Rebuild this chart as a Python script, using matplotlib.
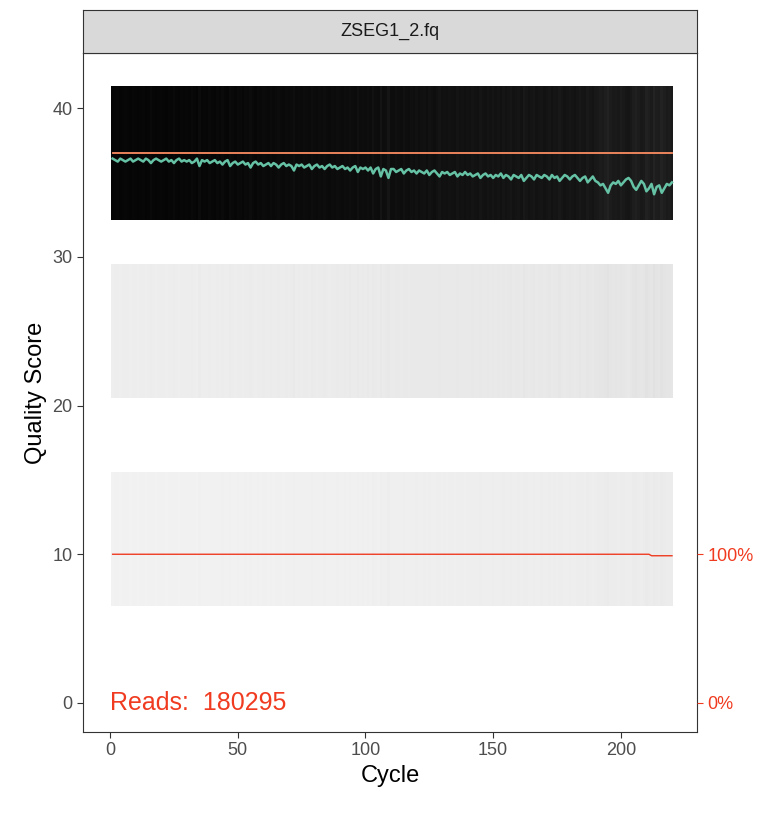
import numpy as np
import matplotlib
matplotlib.use("Agg")
import matplotlib.pyplot as plt
from matplotlib.colors import LinearSegmentedColormap
plt.rcParams['font.family'] = ['Liberation Sans', 'DejaVu Sans']

title = "ZSEG1_2.fq"
reads = 180295
cycles = np.arange(1, 221)
mean_q = [36.6,36.5,36.4,36.6,36.5,36.4,36.5,36.6,36.4,36.5,
36.6,36.5,36.4,36.6,36.5,36.3,36.5,36.6,36.5,36.4,
36.5,36.6,36.4,36.5,36.3,36.5,36.6,36.4,36.5,36.4,
36.5,36.3,36.4,36.6,36.1,36.5,36.4,36.5,36.3,36.4,
36.5,36.3,36.4,36.2,36.4,36.5,36.1,36.3,36.4,36.2,
36.3,36.4,36.2,36.3,36.0,36.3,36.4,36.2,36.3,36.1,
36.2,36.3,36.1,36.3,36.2,36.0,36.2,36.3,36.1,36.2,
36.1,35.8,36.2,36.1,36.2,36.0,36.1,36.2,35.9,36.1,
36.2,36.0,36.1,35.9,36.1,36.2,36.0,36.1,35.9,36.0,
36.1,35.9,36.0,35.8,36.0,36.1,35.7,36.0,35.9,36.0,
35.8,36.0,35.6,35.9,36.0,35.4,35.9,35.8,35.3,35.9,
35.9,35.7,35.8,35.9,35.6,35.8,35.9,35.7,35.8,35.6,
35.8,35.7,35.6,35.8,35.5,35.7,35.8,35.6,35.4,35.7,
35.6,35.7,35.5,35.6,35.7,35.4,35.6,35.5,35.7,35.5,
35.6,35.4,35.5,35.6,35.3,35.5,35.6,35.4,35.5,35.3,
35.5,35.4,35.6,35.3,35.5,35.4,35.2,35.5,35.4,35.3,
35.5,35.1,35.3,35.5,35.4,35.2,35.5,35.4,35.3,35.5,
35.4,35.2,35.5,35.3,35.4,35.1,35.3,35.5,35.4,35.2,
35.4,35.5,35.3,35.1,35.3,35.4,35.0,35.2,35.4,35.1,
35.0,34.8,34.9,34.6,34.3,34.8,35.0,34.9,35.1,34.8,
35.0,35.2,35.3,35.1,34.7,34.5,34.8,35.1,34.9,34.4,
34.6,34.9,34.2,34.7,34.8,34.3,34.6,34.9,34.8,35.0]
median_q = [37]*220
read_frac = [1.0]*211 + [0.99]*9
qbins = [11, 25, 37]

mq = np.array(mean_q)
p37 = (mq - 21.5) / 15.5
fracs = {37: 1 - (1 - p37) * 0.8, 25: (1 - p37) * 0.35 + 0.02, 11: (1 - p37) * 0.2 + 0.01}

cmap = LinearSegmentedColormap.from_list("g", ["#F5F5F5", "#000000"])

fig = plt.figure(figsize=(7.84, 8.16), dpi=100)
ax = fig.add_axes([83/784, 1-732/816, 614/784, 679/816])
xedges = np.append(cycles - 0.5, cycles[-1] + 0.5)
for q in qbins:
    ax.pcolormesh(xedges, [q - 4.5, q + 4.5], fracs[q][None, :], cmap=cmap,
                  vmin=0, vmax=1, shading="flat", antialiased=False, linewidth=0)
ax.plot(cycles, mean_q, color="#66C2A5", lw=1.8)
ax.plot(cycles, median_q, color="#FC8D62", lw=1.3)
ax.plot(cycles, np.array(read_frac) * 10, color="#F03B20", lw=1)
ax.text(0, 0, f"Reads:  {reads}", color="#F03B20", fontsize=18, ha="left", va="center")

ax.set_xlim(-10.6, 229.8)
ax.set_ylim(-1.95, 43.7)
ax.set_xticks([0, 50, 100, 150, 200])
ax.set_yticks([0, 10, 20, 30, 40])
ax.tick_params(colors="#333333", labelsize=13, labelcolor="#4D4D4D", length=4)
ax.set_xlabel("Cycle", fontsize=17)
ax.set_ylabel("Quality Score", fontsize=17)
for s in ax.spines.values():
    s.set_color("#333333"); s.set_linewidth(0.8)

ax2 = ax.twinx()
ax2.set_ylim(ax.get_ylim())
ax2.set_yticks([0, 10])
ax2.set_yticklabels(["0%", "100%"])
ax2.tick_params(colors="#F03B20", labelsize=13, labelcolor="#F03B20", length=4)
for s in ax2.spines.values():
    s.set_visible(False)

sax = fig.add_axes([83/784, 1-53/816, 614/784, 43/816])
sax.set_facecolor("#D9D9D9")
sax.set_xticks([]); sax.set_yticks([])
for s in sax.spines.values():
    s.set_color("#333333"); s.set_linewidth(0.8)
sax.text(0.5, 0.5, title, ha="center", va="center", fontsize=13, color="#1A1A1A", transform=sax.transAxes)

fig.savefig("out.png", dpi=100)
